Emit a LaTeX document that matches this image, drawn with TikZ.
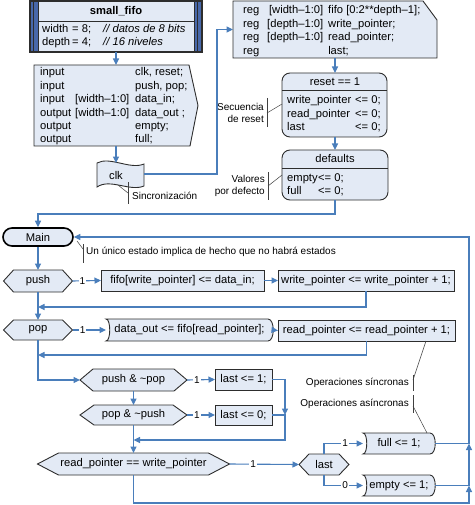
\documentclass[tikz,border=0pt]{standalone}
\usepackage{fontspec}
\setmainfont{Liberation Sans}
\usetikzlibrary{arrows.meta,backgrounds,calc}
\definecolor{boxfill}{RGB}{227,234,245}
\definecolor{connblue}{RGB}{74,126,187}
\definecolor{stripeblue}{RGB}{72,104,170}
\definecolor{edgegray}{RGB}{45,45,45}
\newcommand{\hexnode}[7]{%
  \node[anchorbox, minimum width=#4, minimum height=#5] (#1) at (#2,#3) {#7};
  \begin{scope}[on background layer]
  \draw[shapeline] (#1.west) -- ([xshift=#6]#1.north west) -- ([xshift=-#6]#1.north east) -- (#1.east) -- ([xshift=-#6]#1.south east) -- ([xshift=#6]#1.south west) -- cycle;
  \end{scope}}
\newcommand{\storednode}[6]{%
  \node[anchorbox, minimum width=#4, minimum height=#5] (#1) at (#2,#3) {#6};
  \begin{scope}[on background layer]
  \draw[shapeline] (#1.north west) -- ([xshift=-5]#1.north east) .. controls ([xshift=2]#1.north east) and ([xshift=2]#1.south east) .. ([xshift=-5]#1.south east) -- (#1.south west) .. controls ([xshift=5]#1.south west) and ([xshift=5]#1.north west) .. (#1.north west) -- cycle;
  \end{scope}}
\begin{document}
\begin{tikzpicture}[x=1pt,y=-1pt,
  font=\fontsize{11.2}{13.4}\selectfont,
  shapeline/.style={draw=edgegray, fill=boxfill, line width=0.9pt},
  anchorbox/.style={draw=none, inner sep=0pt, outer sep=0pt, rectangle},
  rectbox/.style={draw=edgegray, fill=boxfill, line width=0.9pt, inner sep=0pt, outer sep=0pt, rectangle},
  conn/.style={draw=connblue, line width=1.1pt, -{Triangle[length=6.5pt,width=6pt]}},
  connplain/.style={draw=connblue, line width=1.1pt},
  note/.style={draw=black!75, line width=0.5pt},
  notetext/.style={font=\fontsize{10}{12}\selectfont, inner sep=0pt},
  lbl/.style={fill=white, inner sep=1pt, font=\fontsize{10}{12}\selectfont},
]
\useasboundingbox (0,0) rectangle (474,505);

% ---------- module box ----------
\begin{scope}[on background layer]
\fill[boxfill] (30,1) rectangle (202,52);
\fill[stripeblue] (30,1) rectangle (38,52);
\fill[stripeblue] (194,1) rectangle (202,52);
\draw[edgegray, line width=0.6pt] (33.5,1) -- (33.5,52) (38,1) -- (38,52) (194,1) -- (194,52) (197.5,1) -- (197.5,52);
\draw[edgegray, line width=0.7pt] (38,21) -- (194,21);
\draw[edgegray, line width=1.1pt] (30,1) rectangle (202,52);
\end{scope}
\node[anchorbox, minimum width=172, minimum height=51] (module) at (116,26.5) {};
\node[font=\fontsize{11.2}{13.4}\selectfont\bfseries, inner sep=0pt] (modtitle) at (116,11) {small\_fifo};
\node[anchor=base west, inner sep=0pt] (modparams) at (42,32.5) {\begin{tabular}[t]{@{}p{30pt}@{}p{31pt}@{}l@{}} width & = 8; & \textit{// datos de 8 bits}\\ depth & = 4; & \textit{// 16 niveles}\end{tabular}};

% ---------- ports box ----------
\begin{scope}[on background layer]
\draw[shapeline] (34,65) -- (189,65) -- (198,105.5) -- (190,146) -- (34,146) -- cycle;
\end{scope}
\node[anchorbox, minimum width=164, minimum height=81] (ports) at (116,105.5) {};
\node[anchor=base west, inner sep=0pt] (portlist) at (40,76) {\begin{tabular}[t]{@{}p{35pt}@{}p{60pt}@{}l@{}} input && clk, reset;\\ input && push, pop;\\ input & [width–1:0] & data\_in;\\ output & [width–1:0] & data\_out ;\\ output && empty;\\ output && full;\end{tabular}};

% ---------- clk ----------
\begin{scope}[on background layer]
\draw[shapeline] (97,163) .. controls (110,156) and (130,170) .. (144,164) -- (144,186) .. controls (130,192) and (110,178) .. (97,187) -- cycle;
\end{scope}
\node[anchorbox, minimum width=47, minimum height=24] (clk) at (120.5,175) {};
\node[inner sep=0pt] (clklabel) at (116,175) {clk};
\draw[note] (118,185) -- (128,193);
\draw[note] (128,182) -- (128,204);
\node[notetext, anchor=west] (synctext) at (132,196) {Sincronización};

% ---------- reg box ----------
\begin{scope}[on background layer]
\draw[shapeline] (233,1) -- (423,1) -- (437,20) -- (437,58) -- (233,58) -- cycle;
\end{scope}
\node[anchorbox, minimum width=204, minimum height=57] (regs) at (335,29.5) {};
\node[anchor=base west, inner sep=0pt] (reglist) at (243,14) {\begin{tabular}[t]{@{}p{24pt}@{}r@{\hspace{5pt}}l@{}} reg & [width–1:0] & fifo [0:2**depth–1];\\ reg & [depth–1:0] & write\_pointer;\\ reg & [depth–1:0] & read\_pointer;\\ reg && last;\end{tabular}};

% ---------- reset box ----------
\begin{scope}[on background layer]
\draw[shapeline, rounded corners=8pt] (282,73) rectangle (387,137);
\draw[edgegray, line width=0.9pt] (282,90) -- (387,90);
\end{scope}
\node[anchorbox, minimum width=105, minimum height=64] (reset) at (335,105) {};
\node[inner sep=0pt] (resethead) at (335,81.5) {reset == 1};
\node[anchor=base west, inner sep=0pt] (resetlist) at (287,104) {\begin{tabular}[t]{@{}p{68pt}@{}l@{}} write\_pointer & <= 0;\\ read\_pointer & <= 0;\\ last & <= 0;\end{tabular}};
\node[notetext, anchor=east, align=right] (resetnote) at (264,113) {Secuencia\\de reset};
\draw[note] (267,98) -- (267,127);
\draw[note] (267,113) -- (282,104);

% ---------- defaults box ----------
\begin{scope}[on background layer]
\draw[shapeline, rounded corners=8pt] (282,150) rectangle (388,200);
\draw[edgegray, line width=0.9pt] (282,168) -- (388,168);
\end{scope}
\node[anchorbox, minimum width=106, minimum height=50] (defaults) at (335,175) {};
\node[inner sep=0pt] (defhead) at (335,158.5) {defaults};
\node[anchor=base west, inner sep=0pt] (deflist) at (287,181.5) {\begin{tabular}[t]{@{}p{31pt}@{}l@{}} empty & <= 0;\\ full & <= 0;\end{tabular}};
\node[notetext, anchor=east, align=right] (defnote) at (265,186) {Valores\\por defecto};
\draw[note] (268,172) -- (268,200);
\draw[note] (268,186) -- (282,175);

% ---------- Main ----------
\node[draw=black, fill=boxfill, line width=1.6pt, rounded corners=9pt, minimum width=70, minimum height=18, inner sep=0pt] (main) at (38,237) {Main};
\draw[note] (77,241) -- (83,249);
\draw[note] (83,244) -- (83,263);
\node[notetext, anchor=west] (mainnote) at (86,252) {Un único estado implica de hecho que no habrá estados};

% ---------- flow nodes ----------
\hexnode{push}{38}{281}{69}{22}{10}{push}
\node[rectbox, minimum width=163, minimum height=21] (fifo) at (182.5,280.5) {fifo[write\_pointer] <= data\_in;};
\node[rectbox, minimum width=176, minimum height=21] (wp) at (366,280.5) {write\_pointer <= write\_pointer + 1;};

\hexnode{pop}{38}{330}{69}{20}{10}{pop}
\storednode{dataout}{189.5}{330}{167}{22}{data\_out <= fifo[read\_pointer];}
\node[rectbox, minimum width=177, minimum height=21] (rp) at (366.5,330.5) {read\_pointer <= read\_pointer + 1;};

\hexnode{pushnpop}{133.5}{380}{107}{22}{13}{push \& \textasciitilde pop}
\node[rectbox, minimum width=57, minimum height=21] (lastone) at (243.5,379.5) {last <= 1;};
\hexnode{popnpush}{133.5}{415}{107}{20}{14}{pop \& \textasciitilde push}
\node[rectbox, minimum width=57, minimum height=20] (lastzero) at (243.5,415) {last <= 0;};

\hexnode{rweq}{133.5}{464}{192}{22}{21}{read\_pointer == write\_pointer}
\hexnode{last}{324}{464.5}{50}{21}{10}{last}
\storednode{full}{399}{443.5}{72}{21}{full <= 1;}
\storednode{empty}{399}{485.5}{72}{21}{empty <= 1;}

% annotations for operations
\node[notetext, anchor=east] (syncnote) at (409,383) {Operaciones síncronas};
\node[notetext, anchor=east] (asyncnote) at (409,404) {Operaciones asíncronas};
\draw[note] (413,375) -- (413,391);
\draw[note] (413,395) -- (413,413);
\draw[note] (426,341) -- (413,380);
\draw[note] (413,406) -- (427,433);

% ---------- connectors ----------
\coordinate (clkturn) at (217,174);
\coordinate (ret1) at (38,307);
\coordinate (ret2) at (38,355);
\coordinate (jlast) at (285,415);
\coordinate (ret3) at (133.5,440);
\coordinate (jfull) at (469,443.5);
\coordinate (jempty) at (469,485.5);
\coordinate (jbottom) at (469,503);

\draw[conn] (module.south) -- (ports.north);
\draw[conn] (ports.south) -- (ports.south |- clk.north);
\draw[conn] (clk.east |- clkturn) -- (clkturn) |- (regs.west);
\draw[conn] (regs.south) -- (regs.south |- reset.north);
\draw[conn] (reset.south) -- (defaults.north);
\draw[conn] (defaults.south) -- ++(0,14) -| (main.north);
\draw[conn] (main.south) -- (push.north);
\draw[conn] (push.east) -- node[lbl, pos=0.35]{1} (fifo.west);
\draw[conn] (fifo.east) -- (wp.west);
\draw[conn] (wp.south) |- (ret1);
\draw[conn] (push.south) -- (pop.north);
\draw[conn] (pop.east) -- node[lbl, pos=0.3]{1} (dataout.west);
\draw[conn] (dataout.east) -- (rp.west);
\draw[conn] (rp.south) |- (ret2);
\draw[conn] (pop.south) |- (pushnpop.west);
\draw[conn] (pushnpop.east) -- node[lbl, pos=0.35]{1} (lastone.west);
\draw[conn] (pushnpop.south) -- (popnpush.north);
\draw[conn] (popnpush.east) -- node[lbl, pos=0.35]{1} (lastzero.west);
\draw[conn] (lastone.east) -| (jlast);
\draw[conn] (lastzero.east) -- (jlast) |- (ret3);
\draw[conn] (popnpush.south) -- (rweq.north);
\draw[conn] (rweq.east) -- node[lbl, pos=0.34]{1} (last.west);
\draw[conn] (last.north) |- node[lbl, pos=0.77]{1} (full.west);
\draw[conn] (last.south) |- node[lbl, pos=0.77]{0} (empty.west);
\draw[connplain] (full.east) -- (jfull);
\draw[connplain] (empty.east) -- (jempty);
\draw[conn] (rweq.south) |- (jbottom) -- (jempty);
\draw[conn] (jempty) -- (jfull);
\draw[conn] (jfull) |- (main.east);
\end{tikzpicture}
\end{document}
